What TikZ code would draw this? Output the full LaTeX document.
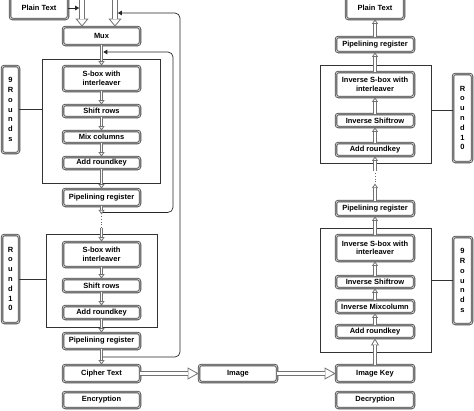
\documentclass[tikz,border=0pt]{standalone}
\usepackage{fontspec}
\setmainfont{Liberation Sans}
\usetikzlibrary{arrows.meta,calc}
\tikzset{
  box/.style={draw=black!70, double=gray!45, double distance=0.9pt, line width=0.8pt,
    rounded corners=2.5pt, fill=white, inner sep=0pt, align=center,
    font=\fontsize{7.5}{8.5}\selectfont\bfseries},
  grp/.style={draw=black!80, line width=0.7pt, inner sep=0pt},
  lab/.style={box, font=\fontsize{7.5}{9.8}\selectfont\bfseries},
  fb/.style={draw=black!85, line width=0.7pt, rounded corners=5pt, -{Triangle[length=4pt,width=4.5pt]}},
  arrtip/.style 2 args={draw=black!55, line width=0.8pt, -{Triangle[open,length=#1,width=#2]}},
  arrshaft/.style 2 args={draw=black!55, double=white, line width=0.8pt, double distance=#2, shorten >=#1},
  dotline/.style={draw=black!60, line width=0.8pt, dotted},
}
\newcommand\harr[5]{\draw[arrtip={#1}{#2}] (#4) -- (#5); \draw[arrshaft={#1}{#3}] (#4) -- (#5);}
\newcommand\sarr[2]{\harr{4.5pt}{6pt}{1.8pt}{#1}{#2}}
\begin{document}
\begin{tikzpicture}[x=1pt,y=-1pt]
\useasboundingbox (0,0) rectangle (474,410);
% group boxes
\node[grp,minimum width=118pt,minimum height=124pt] (g1) at (101,121) {};
\node[grp,minimum width=111pt,minimum height=93pt] (g2) at (101.5,280.5) {};
\node[grp,minimum width=111pt,minimum height=98pt] (g3) at (375.5,114) {};
\node[grp,minimum width=111pt,minimum height=124pt] (g4) at (375.5,290) {};
% left column
\node[box,minimum width=58pt,minimum height=22pt] (ptL) at (39,8) {Plain Text};
\node[box,minimum width=77pt,minimum height=18pt] (mux) at (101.5,36) {Mux};
\node[box,minimum width=77pt,minimum height=25pt] (sbox1) at (101.5,78.5) {S-box with\\interleaver};
\node[box,minimum width=77pt,minimum height=12pt] (sh1) at (101.5,111) {Shift rows};
\node[box,minimum width=77pt,minimum height=12pt] (mc1) at (101.5,137) {Mix columns};
\node[box,minimum width=77pt,minimum height=12pt] (ak1) at (101.5,163) {Add roundkey};
\node[box,minimum width=77pt,minimum height=17pt] (pr1) at (101.5,197.5) {Pipelining register};
\node[box,minimum width=77pt,minimum height=25pt] (sbox2) at (101.5,254.5) {S-box with\\interleaver};
\node[box,minimum width=77pt,minimum height=13pt] (sh2) at (101.5,285.5) {Shift rows};
\node[box,minimum width=77pt,minimum height=13pt] (ak2) at (101.5,312.5) {Add roundkey};
\node[box,minimum width=77pt,minimum height=16pt] (pr2) at (101.5,341) {Pipelining register};
\node[box,minimum width=77pt,minimum height=17pt] (ct) at (101.5,373.5) {Cipher Text};
\node[box,minimum width=77pt,minimum height=16pt] (enc) at (101.5,400) {Encryption};
\node[box,minimum width=78pt,minimum height=17pt] (img) at (238,373.5) {Image};
% right column
\node[box,minimum width=58pt,minimum height=22pt] (ptR) at (375,8) {Plain Text};
\node[box,minimum width=78pt,minimum height=15pt] (prR1) at (375,44.5) {Pipelining register};
\node[box,minimum width=78pt,minimum height=25pt] (isb1) at (375,84.5) {Inverse S-box with\\interleaver};
\node[box,minimum width=78pt,minimum height=13pt] (ish1) at (375,120.5) {Inverse Shiftrow};
\node[box,minimum width=78pt,minimum height=13pt] (akR1) at (375,149.5) {Add roundkey};
\node[box,minimum width=78pt,minimum height=15pt] (prR2) at (375,208.5) {Pipelining register};
\node[box,minimum width=78pt,minimum height=26pt] (isb2) at (375,248) {Inverse S-box with\\interleaver};
\node[box,minimum width=78pt,minimum height=12pt] (ish2) at (375,282) {Inverse Shiftrow};
\node[box,minimum width=78pt,minimum height=13pt] (imc) at (375,306.5) {Inverse Mixcolumn};
\node[box,minimum width=78pt,minimum height=13pt] (akR2) at (375,331.5) {Add roundkey};
\node[box,minimum width=78pt,minimum height=17pt] (ik) at (375,373.5) {Image Key};
\node[box,minimum width=78pt,minimum height=16pt] (dec) at (375,400) {Decryption};
% labels
\node[lab,minimum width=17pt,minimum height=87pt] (l1) at (10.5,109.5) {9\\R\\o\\u\\n\\d\\s};
\node[lab,minimum width=17pt,minimum height=88pt] (l2) at (10.5,279) {R\\o\\u\\n\\d\\1\\0};
\node[lab,minimum width=19pt,minimum height=88pt] (l3) at (462.5,118) {R\\o\\u\\n\\d\\1\\0};
\node[lab,minimum width=19pt,minimum height=87pt] (l4) at (462.5,280.5) {9\\R\\o\\u\\n\\d\\s};
\coordinate (y3) at (0,110);
\draw[grp] (l1.east) -- (l1.east -| g1.west);
\draw[grp] (l2.east) -- (l2.east -| g2.west);
\draw[grp] (g3.east |- y3) -- (l3.west |- y3);
\draw[grp] (l4.west) -- (l4.west -| g4.east);
% feedback lines
\coordinate (inA) at (82,0);
\coordinate (inB) at (115,0);
\coordinate (f1) at ($(pr2.south)!.5!(ct.north)$);
\coordinate (c1) at (180,13);
\draw[fb] (f1) -| (c1) -- ($(inB |- c1)+(2.8,0)$);
\coordinate (f2) at ($(pr1.south)+(0,6)$);
\coordinate (c2) at (173,52);
\draw[fb] (f2) -| (c2) -- ($(mux.south |- c2)+(1.8,0)$);
\draw[fb] (ptL.east) -- ($(ptL.east -| inA)+(-2.8,0)$);
% top inputs
\harr{8pt}{13pt}{4pt}{inA}{inA |- mux.north}
\harr{8pt}{13pt}{4pt}{inB}{inB |- mux.north}
% left chain
\sarr{mux.south}{sbox1.north}
\sarr{sbox1.south}{sh1.north}
\sarr{sh1.south}{mc1.north}
\sarr{mc1.south}{ak1.north}
\sarr{ak1.south}{pr1.north}
\sarr{pr1.south}{$(pr1.south)+(0,8)$}
\draw[dotline] ($(pr1.south)+(0,9.5)$) -- ($(pr1.south)+(0,22)$);
\sarr{$(pr1.south)+(0,22)$}{sbox2.north}
\sarr{sbox2.south}{sh2.north}
\sarr{sh2.south}{ak2.north}
\sarr{ak2.south}{pr2.north}
\sarr{pr2.south}{ct.north}
% bottom
\harr{11pt}{12pt}{2.5pt}{ct.east}{img.west}
\harr{11pt}{12pt}{2.5pt}{img.east}{ik.west}
% right chain
\harr{7pt}{8pt}{2.5pt}{ik.north}{akR2.south}
\sarr{akR2.north}{imc.south}
\sarr{imc.north}{ish2.south}
\sarr{ish2.north}{isb2.south}
\sarr{isb2.north}{prR2.south}
\sarr{prR2.north}{$(prR2.north)+(0,-17)$}
\draw[dotline] ($(prR2.north)+(0,-18.5)$) -- ($(prR2.north)+(0,-29)$);
\sarr{$(prR2.north)+(0,-30)$}{akR1.south}
\sarr{akR1.north}{ish1.south}
\sarr{ish1.north}{isb1.south}
\sarr{isb1.north}{prR1.south}
\sarr{prR1.north}{ptR.south}
\end{tikzpicture}
\end{document}
